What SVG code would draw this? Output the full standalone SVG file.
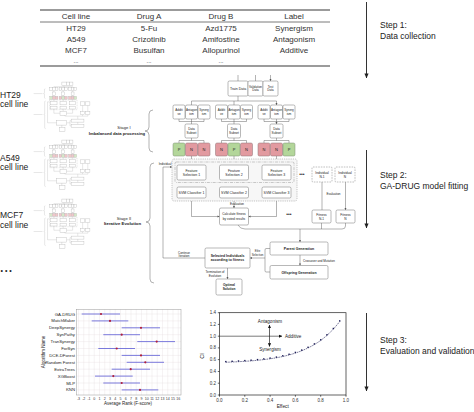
<svg xmlns="http://www.w3.org/2000/svg" xmlns:xlink="http://www.w3.org/1999/xlink" width="474" height="412" viewBox="0 0 474 412">
<style>
.t{font-family:"Liberation Sans",Arial,sans-serif;fill:#222}
.m{text-anchor:middle}
.e{text-anchor:end}
.bd{font-weight:bold}
.tb{font-size:8px;fill:#333}
.st{font-size:8.5px;fill:#222}
.f3{font-size:3px}
.f32{font-size:3.2px}
.f35{font-size:3.5px}
.f38{font-size:3.8px}
.b{fill:#fff;stroke:#707070;stroke-width:.5}
.dash{fill:#fff;stroke:#808080;stroke-width:.5;stroke-dasharray:1.6 1}
.cn{fill:none;stroke:#555;stroke-width:.45}
.pos{fill:#b3d69a;stroke:#7d8c72;stroke-width:.5}
.neg{fill:#e29aa0;stroke:#8f7275;stroke-width:.5}
.tbl{stroke:#7a7a7a;fill:none}
.grid{stroke:#e6dde0;stroke-width:.35;fill:none}
.bar{stroke:#5b5bd6;stroke-width:.8}
.dot{fill:#b0203c}
.ax{fill:none;stroke:#222;stroke-width:.7}
.tk{font-size:3.6px;fill:#333}
.ck{font-size:4.5px;fill:#333}
.thb{fill:#fff;stroke:#9a9a9a;stroke-width:1.6}
.thl{fill:none;stroke:#9a9a9a;stroke-width:1.4}
.thp{fill:#c9e2b6;stroke:#9a9a9a;stroke-width:1.4}
.thn{fill:#ecb3b8;stroke:#9a9a9a;stroke-width:1.4}
</style>
<defs>
<marker id="ar" viewBox="0 0 6 6" refX="5.5" refY="3" markerWidth="2.2" markerHeight="2.2" markerUnits="userSpaceOnUse" orient="auto"><path d="M0,0.3 L6,3 L0,5.7 z" fill="#555"/></marker>
<marker id="big" viewBox="0 0 6 6" refX="5.5" refY="3" markerWidth="5" markerHeight="5" markerUnits="userSpaceOnUse" orient="auto"><path d="M0,0.5 L6,3 L0,5.5 z" fill="#222"/></marker>
<marker id="ch" viewBox="0 0 6 6" refX="5.5" refY="3" markerWidth="3.5" markerHeight="3.5" markerUnits="userSpaceOnUse" orient="auto-start-reverse"><path d="M0,0.3 L6,3 L0,5.7 z" fill="#111"/></marker>
<symbol id="thumb" viewBox="88 72 272 226" preserveAspectRatio="none">
<path class="thl" d="M238,96V101M191.5,101H276.5M191.5,101V105M234,101V105M276.5,101V105M191.5,119V124M234,119V124M276.5,119V124M191.5,138V143M234,138V143M276.5,138V143M191.5,156V165M234,156V165M276.5,156V165M191.5,198V216.5H219.5M276.5,198V216.5H248.5M234,198V208M238,225Q240,229 245,229H346V223M321.5,223V229M300,229V242M300,255V265M205,258H163V167H172M270,248.5H265V272H270M265,258H250M227.5,268V279M153,110Q149,110 149,114V127Q149,131 145,131Q149,131 149,135V148Q149,152 153,152M154,163Q150,163 150,167V218Q150,222 146,222Q150,222 150,226V279Q150,283 154,283M322,182V210M345.5,182V210"/>
<rect class="thb" x="228" y="81" width="20" height="15"/><rect class="thb" x="248" y="81" width="15" height="15"/><rect class="thb" x="263" y="81" width="15" height="15"/>
<rect class="thb" x="173" y="105" width="12" height="14"/><rect class="thb" x="185.5" y="105" width="12" height="14"/><rect class="thb" x="198" y="105" width="12" height="14"/>
<rect class="thb" x="215.5" y="105" width="12" height="14"/><rect class="thb" x="228" y="105" width="12" height="14"/><rect class="thb" x="240.5" y="105" width="12" height="14"/>
<rect class="thb" x="258" y="105" width="12" height="14"/><rect class="thb" x="270.5" y="105" width="12" height="14"/><rect class="thb" x="283" y="105" width="12" height="14"/>
<rect class="thb" x="185" y="124" width="13" height="14"/><rect class="thb" x="227.5" y="124" width="13" height="14"/><rect class="thb" x="270" y="124" width="13" height="14"/>
<rect class="thp" x="173" y="143" width="12" height="13"/><rect class="thn" x="185.5" y="143" width="12" height="13"/><rect class="thn" x="198" y="143" width="12" height="13"/>
<rect class="thn" x="215.5" y="143" width="12" height="13"/><rect class="thp" x="228" y="143" width="12" height="13"/><rect class="thn" x="240.5" y="143" width="12" height="13"/>
<rect class="thn" x="258" y="143" width="12" height="13"/><rect class="thn" x="270.5" y="143" width="12" height="13"/><rect class="thp" x="283" y="143" width="12" height="13"/>
<rect class="thl" x="172" y="159" width="125" height="42" stroke-dasharray="4 3"/>
<rect class="thb" x="177" y="165" width="29" height="15"/><rect class="thb" x="219.5" y="165" width="29" height="15"/><rect class="thb" x="262" y="165" width="29" height="15"/>
<rect class="thb" x="177" y="187" width="29" height="11"/><rect class="thb" x="219.5" y="187" width="29" height="11"/><rect class="thb" x="262" y="187" width="29" height="11"/>
<rect class="thb" x="312" y="167" width="20" height="15"/><rect class="thb" x="335" y="167" width="20" height="15"/>
<rect class="thb" x="312" y="210" width="19" height="13"/><rect class="thb" x="336" y="210" width="19" height="13"/>
<rect class="thb" x="219.5" y="208" width="29" height="17"/>
<rect class="thb" x="270" y="242" width="58" height="13"/><rect class="thb" x="270" y="265.5" width="58" height="13.5"/>
<rect class="thb" x="205" y="248" width="45" height="20"/><rect class="thb" x="216" y="279" width="26" height="16"/>
<path class="thl" d="M100,131H140M100,222H140"/>
</symbol>
</defs>
<rect width="474" height="412" fill="#fff"/>

<g id="table">
<line class="tbl" x1="40" y1="10" x2="330" y2="10" stroke-width="1.4"/>
<line class="tbl" x1="40" y1="22" x2="330" y2="22" stroke-width="1"/>
<line class="tbl" x1="40" y1="66" x2="330" y2="66" stroke-width="1.4"/>
<text class="t tb m" x="76" y="18.5">Cell line</text>
<text class="t tb m" x="149" y="18.5">Drug A</text>
<text class="t tb m" x="221" y="18.5">Drug B</text>
<text class="t tb m" x="294" y="18.5">Label</text>
<text class="t tb m" x="76" y="31">HT29</text>
<text class="t tb m" x="149" y="31">5-Fu</text>
<text class="t tb m" x="221" y="31">Azd1775</text>
<text class="t tb m" x="294" y="31">Synergism</text>
<text class="t tb m" x="76" y="42">A549</text>
<text class="t tb m" x="149" y="42">Crizotinib</text>
<text class="t tb m" x="221" y="42">Amifostine</text>
<text class="t tb m" x="294" y="42">Antagonism</text>
<text class="t tb m" x="76" y="53">MCF7</text>
<text class="t tb m" x="149" y="53">Busulfan</text>
<text class="t tb m" x="221" y="53">Allopurinol</text>
<text class="t tb m" x="294" y="53">Additive</text>
<text class="t m" x="76" y="62.5" font-size="6" fill="#999">...</text>
<text class="t m" x="149" y="62.5" font-size="6" fill="#999">...</text>
<text class="t m" x="221" y="62.5" font-size="6" fill="#999">...</text>
</g>

<g id="steps">
<line x1="366.5" y1="2" x2="366.5" y2="78" stroke="#333" stroke-width="1" marker-end="url(#big)"/>
<line x1="366.5" y1="150" x2="366.5" y2="228" stroke="#333" stroke-width="1" marker-end="url(#big)"/>
<line x1="366.5" y1="313" x2="366.5" y2="391" stroke="#333" stroke-width="1" marker-end="url(#big)"/>
<text class="t st" x="380" y="28">Step 1:</text>
<text class="t st" x="380" y="39">Data collection</text>
<text class="t st" x="380" y="178">Step 2:</text>
<text class="t st" x="380" y="188.5">GA-DRUG model fitting</text>
<text class="t st" x="380" y="343">Step 3:</text>
<text class="t st" x="380" y="353.5">Evaluation and validation</text>
</g>

<g id="cell-lines">
<text class="t st" x="0" y="98">HT29</text>
<text class="t st" x="0" y="107">cell line</text>
<text class="t st" x="0" y="161">A549</text>
<text class="t st" x="0" y="170">cell line</text>
<text class="t st" x="0" y="218">MCF7</text>
<text class="t st" x="0" y="227.5">cell line</text>
<text class="t" x="0.5" y="272.5" font-size="7" fill="#333">• • •</text>
<use xlink:href="#thumb" href="#thumb" x="31" y="80" width="60" height="52" opacity="0.75"/>
<use xlink:href="#thumb" href="#thumb" x="31" y="138" width="60" height="52" opacity="0.75"/>
<use xlink:href="#thumb" href="#thumb" x="31" y="197" width="60" height="52" opacity="0.75"/>
</g>

<g id="connectors">
<path class="cn" d="M238,75V81M255.5,75V81M270.5,75V81" marker-end="url(#ar)"/>
<path class="cn" d="M238,96V101M191.5,101H276.5"/>
<path class="cn" d="M191.5,101V105M234,101V105M276.5,101V105" marker-end="url(#ar)"/>
<path class="cn" d="M179,119V121.5H204V119M221.5,119V121.5H246.5V119M264,119V121.5H289V119"/>
<path class="cn" d="M191.5,119V124M234,119V124M276.5,119V124" marker-end="url(#ar)"/>
<path class="cn" d="M191.5,138V140.5M179,143V140.5H204V143M234,138V140.5M221.5,143V140.5H246.5V143M276.5,138V140.5M264,143V140.5H289V143"/>
<path class="cn" d="M191.5,156V165M234,156V165M276.5,156V165" marker-end="url(#ar)"/>
<path class="cn" d="M191.5,180V187M234,180V187M276.5,180V187" marker-end="url(#ar)"/>
<path class="cn" d="M191.5,198V216.5H219.5" marker-end="url(#ar)"/>
<path class="cn" d="M276.5,198V216.5H248.5" marker-end="url(#ar)"/>
<path class="cn" d="M234,198V208" marker-end="url(#ar)"/>
<path class="cn" d="M322,182V210M345.5,182V210" marker-end="url(#ar)"/>
<path class="cn" d="M238,225Q240,229 245,229H342Q345.5,229 345.5,226V223M321.5,223V229"/>
<path class="cn" d="M300,229V242" marker-end="url(#ar)"/>
<path class="cn" d="M300,255V265.5" marker-end="url(#ar)"/>
<path class="cn" d="M270,248.5H266Q265,248.5 265,250V270.5Q265,272 266,272H270M265,258H250" marker-end="url(#ar)"/>
<path class="cn" d="M205,258H163V167H172" marker-end="url(#ar)"/>
<path class="cn" d="M227.5,268V279" marker-end="url(#ar)"/>
<path class="cn" d="M153,110Q149,110 149,114V127Q149,131 145,131Q149,131 149,135V148Q149,152 153,152"/>
<path class="cn" d="M154,163Q150,163 150,167V218Q150,222 146,222Q150,222 150,226V279Q150,283 154,283"/>
<text class="t m f3" x="165" y="164.8">Individual</text>
<text class="t m f3" x="237" y="205.2" text-anchor="start">Evaluation</text>
<text class="t m f3" x="333.5" y="195">Evaluation</text>
<text class="t m f3" x="184" y="253.5">Continue</text>
<text class="t m f3" x="184" y="257">Iteration</text>
<text class="t m" x="257.5" y="252.3" font-size="2.8">Elite</text>
<text class="t m" x="257.5" y="255.8" font-size="2.8">Selection</text>
<text class="t f3" x="303" y="261.8">Crossover and Mutation</text>
<text class="t m f3" x="215" y="272.8">Termination of</text>
<text class="t m f3" x="215" y="276.5">Evolution</text>
<text class="t" x="302" y="175.5" font-size="5" text-anchor="middle" fill="#333">•••</text>
<text class="t" x="289" y="216" font-size="5" text-anchor="middle" fill="#333">•••</text>
</g>

<g id="stage1">
<text class="t m" x="124" y="129" font-size="4.2">Stage I</text>
<text class="t m bd" x="117" y="134.5" font-size="4.2">Imbalanced data processing</text>
</g>
<g id="stage2">
<text class="t m" x="124" y="219.5" font-size="4.2">Stage II</text>
<text class="t m bd" x="122.5" y="225" font-size="4.3">Iterative Evolution</text>
</g>

<g id="train-data"><rect class="b" x="228" y="81" width="20" height="15" rx="1.5"/><text class="t m f35" x="238" y="89.8">Train Data</text></g>
<g id="validation-data"><rect class="b" x="248" y="81" width="15" height="15" rx="1.5"/><text class="t m f3" x="255.5" y="87.6">Validation</text><text class="t m f3" x="255.5" y="91.3">Data</text></g>
<g id="test-data"><rect class="b" x="263" y="81" width="15" height="15" rx="1.5"/><text class="t m f3" x="270.5" y="87.6">Test</text><text class="t m f3" x="270.5" y="91.3">Data</text></g>

<g id="class-boxes-1">
<rect class="b" x="173" y="105" width="12" height="14" rx="1.5"/><text class="t m f3" x="179" y="111">Additi</text><text class="t m f3" x="179" y="114.8">ve</text>
<rect class="b" x="185.5" y="105" width="12" height="14" rx="1.5"/><text class="t m f3" x="191.5" y="111">Antagon</text><text class="t m f3" x="191.5" y="114.8">ism</text>
<rect class="b" x="198" y="105" width="12" height="14" rx="1.5"/><text class="t m f3" x="204" y="111">Synerg</text><text class="t m f3" x="204" y="114.8">ism</text>
</g>
<g id="class-boxes-2">
<rect class="b" x="215.5" y="105" width="12" height="14" rx="1.5"/><text class="t m f3" x="221.5" y="111">Additi</text><text class="t m f3" x="221.5" y="114.8">ve</text>
<rect class="b" x="228" y="105" width="12" height="14" rx="1.5"/><text class="t m f3" x="234" y="111">Antagon</text><text class="t m f3" x="234" y="114.8">ism</text>
<rect class="b" x="240.5" y="105" width="12" height="14" rx="1.5"/><text class="t m f3" x="246.5" y="111">Synerg</text><text class="t m f3" x="246.5" y="114.8">ism</text>
</g>
<g id="class-boxes-3">
<rect class="b" x="258" y="105" width="12" height="14" rx="1.5"/><text class="t m f3" x="264" y="111">Additi</text><text class="t m f3" x="264" y="114.8">ve</text>
<rect class="b" x="270.5" y="105" width="12" height="14" rx="1.5"/><text class="t m f3" x="276.5" y="111">Antagon</text><text class="t m f3" x="276.5" y="114.8">ism</text>
<rect class="b" x="283" y="105" width="12" height="14" rx="1.5"/><text class="t m f3" x="289" y="111">Synerg</text><text class="t m f3" x="289" y="114.8">ism</text>
</g>

<g id="data-subset-1"><rect class="b" x="185" y="124" width="13" height="14" rx="1.5"/><text class="t m f32" x="191.5" y="130.2">Data</text><text class="t m f32" x="191.5" y="134.2">Subset</text></g>
<g id="data-subset-2"><rect class="b" x="227.5" y="124" width="13" height="14" rx="1.5"/><text class="t m f32" x="234" y="130.2">Data</text><text class="t m f32" x="234" y="134.2">Subset</text></g>
<g id="data-subset-3"><rect class="b" x="270" y="124" width="13" height="14" rx="1.5"/><text class="t m f32" x="276.5" y="130.2">Data</text><text class="t m f32" x="276.5" y="134.2">Subset</text></g>

<g id="labels-1">
<rect class="pos" x="173" y="143" width="12" height="13" rx="1.5"/><text class="t m" x="179" y="151" font-size="4" fill="#444">P</text>
<rect class="neg" x="185.5" y="143" width="12" height="13" rx="1.5"/><text class="t m" x="191.5" y="151" font-size="4" fill="#444">N</text>
<rect class="neg" x="198" y="143" width="12" height="13" rx="1.5"/><text class="t m" x="204" y="151" font-size="4" fill="#444">N</text>
</g>
<g id="labels-2">
<rect class="neg" x="215.5" y="143" width="12" height="13" rx="1.5"/><text class="t m" x="221.5" y="151" font-size="4" fill="#444">N</text>
<rect class="pos" x="228" y="143" width="12" height="13" rx="1.5"/><text class="t m" x="234" y="151" font-size="4" fill="#444">P</text>
<rect class="neg" x="240.5" y="143" width="12" height="13" rx="1.5"/><text class="t m" x="246.5" y="151" font-size="4" fill="#444">N</text>
</g>
<g id="labels-3">
<rect class="neg" x="258" y="143" width="12" height="13" rx="1.5"/><text class="t m" x="264" y="151" font-size="4" fill="#444">N</text>
<rect class="neg" x="270.5" y="143" width="12" height="13" rx="1.5"/><text class="t m" x="276.5" y="151" font-size="4" fill="#444">N</text>
<rect class="pos" x="283" y="143" width="12" height="13" rx="1.5"/><text class="t m" x="289" y="151" font-size="4" fill="#444">P</text>
</g>

<g id="individual-group">
<rect x="172" y="159" width="125" height="42" rx="2" fill="#f7f7f7" stroke="#8a8a8a" stroke-width=".5" stroke-dasharray="1.2 1"/>
<rect x="175" y="162" width="119" height="20.5" rx="1.5" fill="none" stroke="#8a8a8a" stroke-width=".45" stroke-dasharray="3 1 .8 1"/>
</g>
<g id="feature-selection-1"><rect class="b" x="177" y="165" width="29" height="15" rx="1.5"/><text class="t m f35" x="191.5" y="171.5">Feature</text><text class="t m f35" x="191.5" y="176">Selection 1</text></g>
<g id="feature-selection-2"><rect class="b" x="219.5" y="165" width="29" height="15" rx="1.5"/><text class="t m f35" x="234" y="171.5">Feature</text><text class="t m f35" x="234" y="176">Selection 2</text></g>
<g id="feature-selection-3"><rect class="b" x="262" y="165" width="29" height="15" rx="1.5"/><text class="t m f35" x="276.5" y="171.5">Feature</text><text class="t m f35" x="276.5" y="176">Selection 3</text></g>
<g id="svm-1"><rect class="b" x="177" y="187" width="29" height="11" rx="1.5"/><text class="t m f35" x="191.5" y="193.7">SVM Classifier 1</text></g>
<g id="svm-2"><rect class="b" x="219.5" y="187" width="29" height="11" rx="1.5"/><text class="t m f35" x="234" y="193.7">SVM Classifier 2</text></g>
<g id="svm-3"><rect class="b" x="262" y="187" width="29" height="11" rx="1.5"/><text class="t m f35" x="276.5" y="193.7">SVM Classifier 3</text></g>
<g id="individual-n-1"><rect class="dash" x="312" y="167" width="20" height="15" rx="1"/><text class="t m f32" x="322" y="173.5">Individual</text><text class="t m f32" x="322" y="177.5">N-1</text></g>
<g id="individual-n"><rect class="dash" x="335" y="167" width="20" height="15" rx="1"/><text class="t m f32" x="345" y="173.5">Individual</text><text class="t m f32" x="345" y="177.5">N</text></g>
<g id="fitness-n-1"><rect class="b" x="312" y="210" width="19" height="13" rx="1.5"/><text class="t m f32" x="321.5" y="215.8">Fitness</text><text class="t m f32" x="321.5" y="219.8">N-1</text></g>
<g id="fitness-n"><rect class="b" x="336" y="210" width="19" height="13" rx="1.5"/><text class="t m f32" x="345.5" y="215.8">Fitness</text><text class="t m f32" x="345.5" y="219.8">N</text></g>
<g id="calculate-fitness"><rect class="b" x="219.5" y="208" width="29" height="17" rx="1.5"/><text class="t m f32" x="234" y="215.3">Calculate fitness</text><text class="t m f32" x="234" y="219.5">by voted results</text></g>
<g id="parent-generation"><rect class="b" x="270" y="242" width="58" height="13" rx="1.5"/><text class="t m bd f35" x="299" y="249.8">Parent Generation</text></g>
<g id="offspring-generation"><rect class="b" x="270" y="265.5" width="58" height="13.5" rx="1.5"/><text class="t m bd f35" x="299" y="273.5">Offspring Generation</text></g>
<g id="selected-individuals"><rect class="b" x="205" y="248" width="45" height="20" rx="1.5"/><text class="t m bd f35" x="227.5" y="256.5">Selected Individuals</text><text class="t m bd f35" x="227.5" y="261">according to fitness</text></g>
<g id="optimal-solution"><rect class="b" x="216" y="279" width="26" height="16" rx="1.5"/><text class="t m bd f32" x="229" y="286">Optimal</text><text class="t m bd f32" x="229" y="290.3">Solution</text></g>

<g id="rank-chart">
<rect x="76.7" y="309.3" width="104.3" height="85.7" fill="#fff"/>
<path class="grid" d="M78.5,309.3V395M83.75,309.3V395M89,309.3V395M94.25,309.3V395M99.5,309.3V395M104.75,309.3V395M110,309.3V395M115.25,309.3V395M120.5,309.3V395M125.75,309.3V395M131,309.3V395M136.25,309.3V395M141.5,309.3V395M146.75,309.3V395M152,309.3V395M157.25,309.3V395M162.5,309.3V395M167.75,309.3V395M173,309.3V395M178.25,309.3V395M76.7,314H181M76.7,320.9H181M76.7,327.8H181M76.7,334.7H181M76.7,341.6H181M76.7,348.5H181M76.7,355.4H181M76.7,362.3H181M76.7,369.2H181M76.7,376.1H181M76.7,383H181M76.7,389.9H181"/>
<rect x="76.7" y="309.3" width="104.3" height="85.7" fill="none" stroke="#999" stroke-width=".5"/>
<path class="bar" d="M81.7,314H120M91.7,320.9H128.3M121.7,327.8H160M103.3,334.7H140M137.3,341.6H175M98.3,348.5H135M121.7,355.4H160M126.7,362.3H164M111.7,369.2H150M95,376.1H132.7M103.3,383H140M121.7,389.9H158.3"/>
<circle class="dot" cx="101" cy="314" r="1.1"/><circle class="dot" cx="110" cy="320.9" r="1.1"/><circle class="dot" cx="141" cy="327.8" r="1.1"/><circle class="dot" cx="121.7" cy="334.7" r="1.1"/><circle class="dot" cx="156.7" cy="341.6" r="1.1"/><circle class="dot" cx="116.7" cy="348.5" r="1.1"/><circle class="dot" cx="141" cy="355.4" r="1.1"/><circle class="dot" cx="145.3" cy="362.3" r="1.1"/><circle class="dot" cx="130.7" cy="369.2" r="1.1"/><circle class="dot" cx="113.3" cy="376.1" r="1.1"/><circle class="dot" cx="121.7" cy="383" r="1.1"/><circle class="dot" cx="140" cy="389.9" r="1.1"/>
<g class="t" font-size="4.3" fill="#333" text-anchor="end">
<text x="75" y="315.5">GA-DRUG</text><text x="75" y="322.4">MatchMaker</text><text x="75" y="329.3">DeepSynergy</text><text x="75" y="336.2">SynPathy</text><text x="75" y="343.1">TranSynergy</text><text x="75" y="350">ForSyn</text><text x="75" y="356.9">DCE-DForest</text><text x="75" y="363.8">Random Forest</text><text x="75" y="370.7">ExtraTrees</text><text x="75" y="377.6">XGBoost</text><text x="75" y="384.5">MLP</text><text x="75" y="391.4">KNN</text>
</g>
<g class="t tk" text-anchor="middle">
<text x="78.5" y="399.5">-3</text><text x="83.75" y="399.5">-2</text><text x="89" y="399.5">-1</text><text x="94.25" y="399.5">0</text><text x="99.5" y="399.5">1</text><text x="104.75" y="399.5">2</text><text x="110" y="399.5">3</text><text x="115.25" y="399.5">4</text><text x="120.5" y="399.5">5</text><text x="125.75" y="399.5">6</text><text x="131" y="399.5">7</text><text x="136.25" y="399.5">8</text><text x="141.5" y="399.5">9</text><text x="146.75" y="399.5">10</text><text x="152" y="399.5">11</text><text x="157.25" y="399.5">12</text><text x="162.5" y="399.5">13</text><text x="167.75" y="399.5">14</text><text x="173" y="399.5">15</text><text x="178.25" y="399.5">16</text>
</g>
<text class="t m" x="128" y="405" font-size="4.5" fill="#333">Average Rank (F-score)</text>
<text class="t m" x="0" y="0" font-size="4.5" fill="#333" transform="translate(45 352) rotate(-90)">Algorithm Name</text>
</g>

<g id="ci-chart">
<rect class="ax" x="219.5" y="312.7" width="126.5" height="82.3"/>
<path class="ax" d="M217.8,395H219.5M217.8,383.2H219.5M217.8,371.5H219.5M217.8,359.6H219.5M217.8,347.9H219.5M217.8,336.2H219.5M217.8,324.4H219.5M217.8,312.7H219.5M219.5,395V396.7M244.8,395V396.7M270.1,395V396.7M295.4,395V396.7M320.7,395V396.7M346,395V396.7"/>
<g class="t ck" text-anchor="end">
<text x="216" y="396.5">0.0</text><text x="216" y="384.7">0.2</text><text x="216" y="373">0.4</text><text x="216" y="361.1">0.6</text><text x="216" y="349.4">0.8</text><text x="216" y="337.7">1.0</text><text x="216" y="325.9">1.2</text><text x="216" y="314.2">1.4</text>
</g>
<g class="t ck" text-anchor="middle">
<text x="219.5" y="401.8">0.0</text><text x="244.8" y="401.8">0.2</text><text x="270.1" y="401.8">0.4</text><text x="295.4" y="401.8">0.6</text><text x="320.7" y="401.8">0.8</text><text x="346" y="401.8">1.0</text>
</g>
<text class="t m" x="282.75" y="407.8" font-size="4.8" fill="#333">Effect</text>
<text class="t m" x="0" y="0" font-size="5.5" fill="#333" transform="translate(204 356) rotate(-90)">CI</text>
<polyline fill="none" stroke="#1c1c55" stroke-width=".6" stroke-dasharray="1.6 .8" points="225.8,362.3 232.15,362 238.5,361.7 244.8,361.3 251.1,360.9 257.5,360.3 263.8,359.6 270.1,358.8 276.4,357.8 282.75,356.5 289.1,355 295.4,353.1 301.7,350.8 308.05,348 314.4,344.6 320.7,340.5 327,335.4 333.35,329.2 339.7,321.6"/>
<g fill="#1c1c55">
<rect x="225.1" y="360.9" width="1.4" height="1.4"/><rect x="231.45" y="360.6" width="1.4" height="1.4"/><rect x="237.8" y="360.3" width="1.4" height="1.4"/><rect x="244.1" y="359.9" width="1.4" height="1.4"/><rect x="250.4" y="359.5" width="1.4" height="1.4"/><rect x="256.8" y="358.9" width="1.4" height="1.4"/><rect x="263.1" y="358.2" width="1.4" height="1.4"/><rect x="269.4" y="357.4" width="1.4" height="1.4"/><rect x="275.7" y="356.4" width="1.4" height="1.4"/><rect x="282.05" y="355.1" width="1.4" height="1.4"/><rect x="288.4" y="353.6" width="1.4" height="1.4"/><rect x="294.7" y="351.7" width="1.4" height="1.4"/><rect x="301" y="349.4" width="1.4" height="1.4"/><rect x="307.35" y="346.6" width="1.4" height="1.4"/><rect x="313.7" y="343.2" width="1.4" height="1.4"/><rect x="320" y="339.1" width="1.4" height="1.4"/><rect x="326.3" y="334" width="1.4" height="1.4"/><rect x="332.65" y="327.8" width="1.4" height="1.4"/><rect x="339" y="320.2" width="1.4" height="1.4"/>
</g>
<line x1="219.5" y1="336.2" x2="282" y2="336.2" stroke="#222" stroke-width=".6" marker-end="url(#ch)"/>
<line x1="269.5" y1="325" x2="269.5" y2="346.5" stroke="#222" stroke-width=".7" marker-start="url(#ch)" marker-end="url(#ch)"/>
<text class="t m" x="270" y="322.8" font-size="4.6" fill="#333">Antagonism</text>
<text class="t" x="285" y="337.8" font-size="4.6" fill="#333">Additive</text>
<text class="t m" x="270" y="351" font-size="4.6" fill="#333">Synergism</text>
</g>
</svg>
